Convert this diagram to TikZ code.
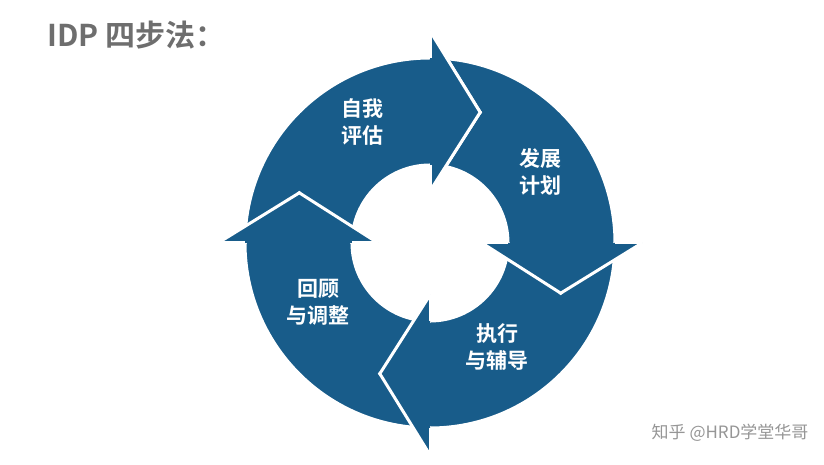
\documentclass[tikz,border=0pt]{standalone}
\usepackage{fontspec}
\newfontfamily\cjk{Noto Sans CJK SC}
\newfontfamily\cjkb{Noto Sans CJK SC Bold}
\begin{document}
\begin{tikzpicture}[x=1pt,y=1pt,
  seg/.style={fill={rgb,255:red,24;green,92;blue,138},draw=white,line width=3pt,line join=miter},
  headfill/.style={fill={rgb,255:red,24;green,92;blue,138}},
  headedge/.style={draw=white,line width=3pt,line join=miter},
  lbl/.style={text=white,font=\cjkb\fontsize{21}{27}\selectfont,align=center}]
\useasboundingbox (0,0) rectangle (824,465);
\fill[white] (0,0) rectangle (824,465);
\def\R{185}\def\r{78}\def\Rh{212}\def\rh{52}\def\rt{140}\def\d{21}
\begin{scope}[shift={(430,222)}]
\foreach \b in {0,-90,180,90}{
  \pgfmathsetmacro{\s}{\b+90}
  \filldraw[seg] (\s:\R) arc[start angle=\s,end angle=\b,radius=\R] -- (\b:\Rh) -- (\b-\d:\rt) -- (\b:\rh) -- (\b:\r)
     arc[start angle=\b,end angle=\s,radius=\r] -- (\s-\d:\rt) -- cycle;
}
\foreach \b in {0,-90,180,90}{
  \fill[headfill] (\b:\Rh) -- (\b-\d:\rt) -- (\b:\rh) -- cycle;
  \draw[headedge] (\b:\Rh) -- (\b-\d:\rt) -- (\b:\rh);
  \draw[headedge] (\b:\R) -- (\b:\Rh);
  \draw[headedge] (\b:\r) -- (\b:\rh);
}
\end{scope}
\node[lbl] (a) at (362,343) {自我\\评估};
\node[lbl] (b) at (540,293) {发展\\计划};
\node[lbl] (c) at (497,118) {执行\\与辅导};
\node[lbl] (d) at (318,163) {回顾\\与调整};
\node[anchor=west,text={rgb,255:red,110;green,110;blue,110},font=\cjkb\fontsize{30}{34}\selectfont] (t) at (44,430) {IDP 四步法：};
\node[anchor=east,text={rgb,255:red,150;green,150;blue,150},font=\cjk\fontsize{17}{20}\selectfont] (w) at (812,32) {知乎 @HRD学堂华哥};
\end{tikzpicture}
\end{document}
